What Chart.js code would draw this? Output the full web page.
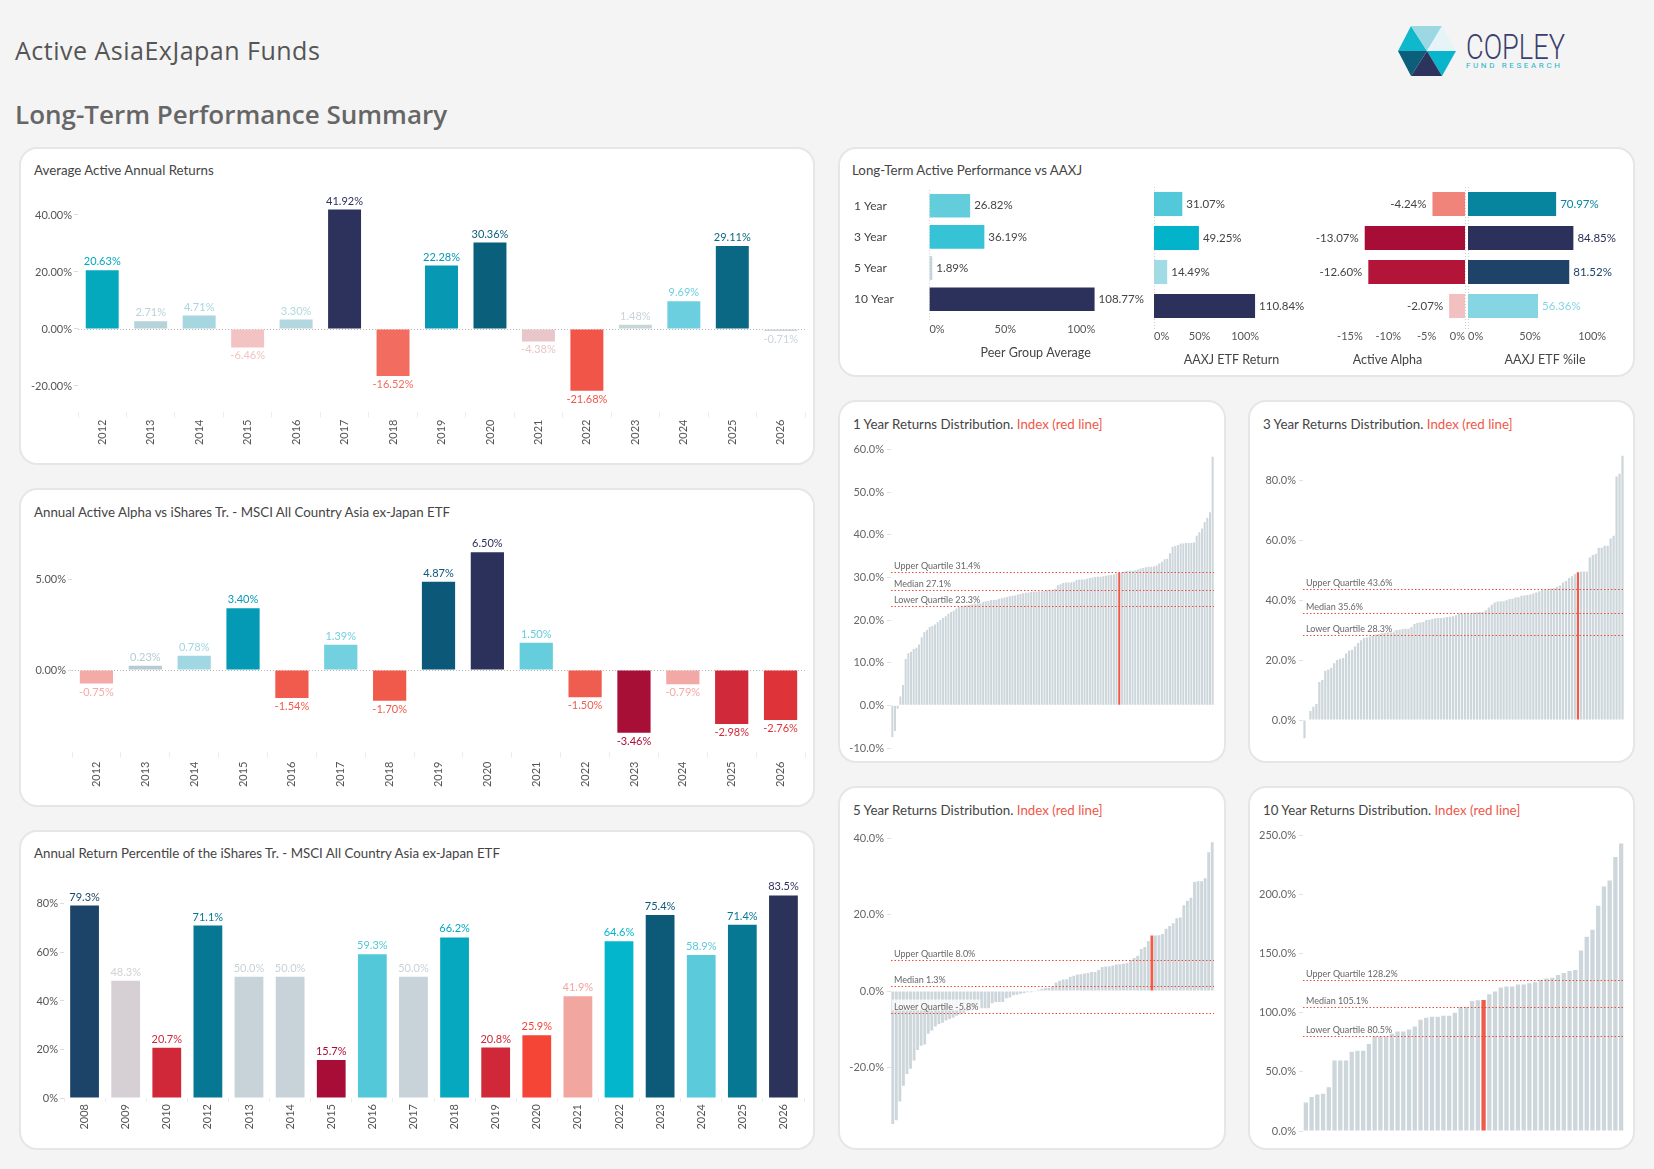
<!DOCTYPE html>
<html>
<head>
<meta charset="utf-8">
<title>Active AsiaExJapan Funds</title>
<script src="https://cdn.jsdelivr.net/npm/chart.js@4.4.1/dist/chart.umd.min.js"></script>
<style>
  body { margin: 0; background: #f4f4f4; font-family: Lato, sans-serif; }
  #page { position: relative; width: 1654px; height: 1169px; overflow: hidden; }
  .card { position: absolute; background: #fff; border: 2px solid #e6e6e6; border-radius: 18px; box-sizing: border-box; }
  .title { position: absolute; font-size: 13.3px; color: #444; white-space: nowrap; line-height: 16px; }
  .title span { color: #f0584a; }
  .h1 { position: absolute; left: 15px; top: 33px; font-family: 'Open Sans'; font-size: 25px; letter-spacing: 0.5px; color: #555; }
  .h2 { position: absolute; left: 15px; top: 96px; font-family: 'Open Sans'; font-size: 26px; font-weight: 600; color: #666; }
  canvas { position: absolute; }
</style>
</head>
<body>
<div id="page">
  <div class="h1">Active AsiaExJapan Funds</div>
  <div class="h2">Long-Term Performance Summary</div>

  <svg width="180" height="60" style="position:absolute;left:1396px;top:22px">
    <g transform="translate(2,4)">
      <polygon points="29,25 0,25 13,0" fill="#10b8cc"/>
      <polygon points="29,25 13,0 44,0" fill="#9bd8e4"/>
      <polygon points="29,25 44,0 58,25" fill="#e6f4f7"/>
      <polygon points="29,25 58,25 44,50" fill="#08b5cc"/>
      <polygon points="29,25 44,50 13,50" fill="#2c335d"/>
      <polygon points="29,25 13,50 0,25" fill="#0c5e7a"/>
    </g>
    <text x="70" y="37" font-family="Roboto" font-weight="300" font-size="35" fill="#3b3f6d" textLength="99" lengthAdjust="spacingAndGlyphs">COPLEY</text>
    <text x="70" y="45.5" font-family="Roboto" font-weight="400" font-size="8" fill="#1ab5c9" textLength="94" lengthAdjust="spacing">FUND RESEARCH</text>
  </svg>

  <div class="card" style="left:19px;top:147px;width:796px;height:318px"></div>
  <div class="card" style="left:19px;top:488px;width:796px;height:319px"></div>
  <div class="card" style="left:19px;top:830px;width:796px;height:320px"></div>
  <div class="card" style="left:838px;top:147px;width:797px;height:230px"></div>
  <div class="card" style="left:838px;top:400px;width:388px;height:363px"></div>
  <div class="card" style="left:1248px;top:400px;width:387px;height:363px"></div>
  <div class="card" style="left:838px;top:786px;width:388px;height:364px"></div>
  <div class="card" style="left:1248px;top:786px;width:387px;height:364px"></div>

  <div class="title" style="left:34px;top:162px">Average Active Annual Returns</div>
  <div class="title" style="left:34px;top:504px">Annual Active Alpha vs iShares Tr. - MSCI All Country Asia ex-Japan ETF</div>
  <div class="title" style="left:34px;top:845px">Annual Return Percentile of the iShares Tr. - MSCI All Country Asia ex-Japan ETF</div>
  <div class="title" style="left:852px;top:162px">Long-Term Active Performance vs AAXJ</div>
  <div class="title" style="left:853px;top:416px">1 Year Returns Distribution. <span>Index (red line]</span></div>
  <div class="title" style="left:1263px;top:416px">3 Year Returns Distribution. <span>Index (red line]</span></div>
  <div class="title" style="left:853px;top:802px">5 Year Returns Distribution. <span>Index (red line]</span></div>
  <div class="title" style="left:1263px;top:802px">10 Year Returns Distribution. <span>Index (red line]</span></div>
</div>

<script>
// ---------- data ----------
var years = ['2012', '2013', '2014', '2015', '2016', '2017', '2018', '2019', '2020', '2021', '2022', '2023', '2024', '2025', '2026'];
var avgActiveReturns = [20.63, 2.71, 4.71, -6.46, 3.30, 41.92, -16.52, 22.28, 30.36, -4.38, -21.68, 1.48, 9.69, 29.11, -0.71];
var activeAlpha = [-0.75, 0.23, 0.78, 3.40, -1.54, 1.39, -1.70, 4.87, 6.50, 1.50, -1.50, -3.46, -0.79, -2.98, -2.76];

var pctYears = ['2008', '2009', '2010', '2012', '2013', '2014', '2015', '2016', '2017', '2018', '2019', '2020', '2021', '2022', '2023', '2024', '2025', '2026'];
var etfPercentile = [79.3, 48.3, 20.7, 71.1, 50.0, 50.0, 15.7, 59.3, 50.0, 66.2, 20.8, 25.9, 41.9, 64.6, 75.4, 58.9, 71.4, 83.5];

var periods = ['1 Year', '3 Year', '5 Year', '10 Year'];
var peerAverage = [26.82, 36.19, 1.89, 108.77];
var etfReturn = [31.07, 49.25, 14.49, 110.84];
var periodAlpha = [-4.24, -13.07, -12.60, -2.07];
var etfRank = [70.97, 84.85, 81.52, 56.36];

var quartileNames = ['Upper Quartile', 'Median', 'Lower Quartile'];

var dist1y = [-7.4, -6.0, -0.8, 2.1, 4.8, 10.9, 12.2, 12.6, 13.2, 13.5, 14.3, 16.0, 17.2, 17.7, 18.4, 18.6, 19.0, 19.5, 20.0, 20.5,
  20.9, 21.5, 21.9, 22.2, 22.7, 23.1, 23.3, 23.4, 23.5, 23.6, 23.7, 23.9, 24.0, 24.1, 24.3, 24.4, 24.5, 24.7, 24.7, 24.8,
  25.0, 25.1, 25.3, 25.4, 25.6, 25.7, 25.8, 26.0, 26.1, 26.3, 26.4, 26.5, 26.6, 26.7, 26.7, 26.8, 26.8, 26.9, 27.0, 27.1,
  27.1, 27.3, 28.2, 28.4, 28.7, 28.8, 28.8, 28.9, 29.0, 29.4, 29.5, 29.5, 29.5, 29.7, 29.9, 30.0, 30.1, 30.2, 30.2, 30.3,
  30.4, 30.5, 30.6, 30.7, 31.0, 31.07, 31.3, 31.4, 31.5, 31.6, 31.6, 31.7, 31.9, 32.1, 32.2, 32.4, 32.5, 32.5, 32.6, 32.8,
  33.3, 33.7, 34.3, 34.4, 35.7, 37.2, 37.4, 37.6, 38.0, 38.0, 38.1, 38.1, 38.1, 38.2, 39.8, 40.6, 41.5, 43.0, 44.0, 45.3, 58.3];
var index1y = 85;
var quart1y = [31.4, 27.1, 23.3];

var dist3y = [-6.1, 0.2, 3.0, 4.4, 5.3, 12.7, 13.3, 16.4, 16.8, 17.4, 18.9, 20.0, 20.4, 20.7, 22.2, 23.2, 23.4, 24.5, 25.7, 26.6,
  27.3, 27.5, 27.8, 28.1, 28.5, 28.7, 28.9, 29.1, 29.4, 29.6, 29.8, 30.0, 30.1, 30.3, 30.4, 30.4, 31.0, 32.0, 32.4, 32.5,
  32.7, 33.3, 33.4, 33.7, 33.9, 34.0, 34.0, 34.1, 34.3, 34.4, 34.6, 34.9, 35.5, 35.6, 35.6, 35.7, 35.7, 35.8, 35.9, 36.0,
  36.0, 36.6, 37.5, 38.4, 39.2, 39.5, 39.6, 39.6, 39.9, 40.3, 40.4, 40.8, 40.9, 41.4, 41.5, 41.7, 41.8, 42.2, 42.5, 42.9,
  43.3, 43.5, 43.7, 43.8, 44.0, 44.4, 44.8, 45.8, 46.3, 47.3, 47.9, 48.7, 49.25, 49.5, 49.5, 49.5, 54.2, 55.0, 55.4, 57.4,
  57.4, 58.1, 58.1, 60.5, 61.4, 81.2, 82.1, 88.1];
var index3y = 92;
var quart3y = [43.6, 35.6, 28.3];

var dist5y = [-34.8, -33.8, -28.9, -24.8, -21.7, -20.3, -18.2, -15.4, -14.3, -14.0, -11.2, -10.3, -9.3, -8.7, -8.3, -7.7, -7.3, -7.0, -6.5, -6.1,
  -5.7, -5.3, -5.0, -4.7, -4.7, -4.5, -4.5, -4.5, -3.2, -2.9, -2.9, -2.9, -1.9, -1.7, -1.1, -1.0, -0.7, -0.5, -0.3, -0.3,
  -0.2, 0.3, 0.6, 0.8, 0.8, 1.3, 2.2, 2.7, 3.0, 3.1, 3.7, 4.0, 4.3, 4.4, 4.6, 4.7, 5.0, 5.0, 5.5, 6.3,
  6.4, 6.4, 6.7, 6.9, 7.0, 7.1, 7.3, 8.1, 8.6, 9.2, 11.0, 11.5, 13.1, 14.49, 14.5, 14.6, 14.9, 16.3, 17.0, 17.7,
  19.0, 19.2, 22.4, 23.6, 24.4, 28.5, 28.7, 28.7, 29.5, 36.3, 38.9];
var index5y = 73;
var quart5y = [8.0, 1.3, -5.8];

var dist10y = [24.2, 28.8, 30.8, 31.6, 37.1, 59.6, 59.6, 59.6, 67.0, 67.9, 67.9, 73.6, 80.2, 80.2, 80.2, 82.4, 84.3, 84.3, 86.0, 88.5,
  94.2, 95.9, 96.7, 96.7, 97.5, 97.5, 100.0, 105.0, 105.0, 110.0, 110.7, 110.84, 115.7, 118.0, 121.4, 122.3, 122.3, 123.9, 123.9, 125.0,
  125.8, 128.0, 129.0, 129.7, 132.0, 133.8, 135.4, 136.3, 152.7, 164.3, 170.3, 190.7, 207.0, 212.0, 231.9, 243.4];
var index10y = 31;
var quart10y = [128.2, 105.1, 80.5];

// ---------- colours ----------
var avgColors = ['#05a9bd', '#b6d3da', '#a6d6e0', '#f3c3c3', '#b3d7de', '#2c325b', '#f26c5f', '#0798b3', '#0a5f7b', '#e8c6c9', '#f15548', '#c7d5d9', '#6ccfdf', '#0a6884', '#cdd4dc'];
var alphaColors = ['#f3aba7', '#b7cbd3', '#a1d7e3', '#049ab5', '#f05b4e', '#73d0de', '#f05a4b', '#0b5879', '#2b315b', '#66cddc', '#ef5d51', '#a80f37', '#f2a9a5', '#d02a3a', '#de3439'];
var pctColors = ['#1c4468', '#d6d0d4', '#d02838', '#077893', '#c8d2d9', '#c8d2d9', '#a80d38', '#52c8d8', '#c8d2d9', '#05a8bf', '#d02838', '#f44536', '#f1a6a0', '#04b6cc', '#0c5a78', '#5bcadb', '#077893', '#2c335b'];
var peerColors = ['#63cddc', '#35c3d5', '#c5d3da', '#2c315b'];
var etfColors = ['#52c8d9', '#02b3c9', '#a2dbe5', '#2c315b'];
var periodAlphaColors = ['#f0847a', '#a80d38', '#b31538', '#f3c0c2'];
var rankColors = ['#07849e', '#2c315b', '#1f4268', '#86d5e2'];
var distGrey = '#cdd6db';
var distRed = '#f05a4a';

Chart.defaults.font.family = "Lato, 'DejaVu Sans', sans-serif";
Chart.defaults.color = '#666';
Chart.defaults.animation = false;
Chart.defaults.plugins.legend.display = false;
Chart.defaults.plugins.tooltip.enabled = false;

// value labels on the end of each bar
var valueLabels = {
  id: 'valueLabels',
  afterDatasetsDraw: function(chart, args, opts) {
    if (!opts.on) return;
    var ctx = chart.ctx;
    var ds = chart.data.datasets[0];
    var meta = chart.getDatasetMeta(0);
    ctx.save();
    ctx.font = (opts.size || 11) + "px Lato, 'DejaVu Sans', sans-serif";
    meta.data.forEach(function(bar, i) {
      var v = ds.data[i];
      var txt = v.toFixed(opts.decimals) + '%';
      ctx.fillStyle = opts.color || ds.backgroundColor[i];
      if (chart.options.indexAxis === 'y') {
        ctx.textBaseline = 'middle';
        if (v >= 0) { ctx.textAlign = 'left'; ctx.fillText(txt, bar.x + 4, bar.y); }
        else { ctx.textAlign = 'right'; ctx.fillText(txt, bar.x - 6, bar.y); }
      } else {
        ctx.textAlign = 'center';
        if (v >= 0) { ctx.textBaseline = 'bottom'; ctx.fillText(txt, bar.x, bar.y - 3); }
        else { ctx.textBaseline = 'top'; ctx.fillText(txt, bar.x, bar.y + 3); }
      }
    });
    ctx.restore();
  }
};

// dotted line at zero
var zeroLine = {
  id: 'zeroLine',
  beforeDatasetsDraw: function(chart, args, opts) {
    if (!opts.axis) return;
    var ctx = chart.ctx, a = chart.chartArea;
    ctx.save();
    ctx.strokeStyle = opts.color || '#bbb';
    ctx.lineWidth = 1;
    ctx.setLineDash([1, 2]);
    ctx.beginPath();
    if (opts.axis === 'y') {
      var y = Math.round(chart.scales.y.getPixelForValue(0)) + 0.5;
      ctx.moveTo(a.left, y); ctx.lineTo(a.right, y);
    } else {
      var x = Math.round(chart.scales.x.getPixelForValue(0)) + 0.5;
      ctx.moveTo(x, a.top); ctx.lineTo(x, a.bottom + 6);
    }
    ctx.stroke();
    ctx.restore();
  }
};

// quartile reference lines
var quartiles = {
  id: 'quartiles',
  afterDatasetsDraw: function(chart, args, opts) {
    if (!opts.values) return;
    var ctx = chart.ctx, a = chart.chartArea, ys = chart.scales.y;
    ctx.save();
    ctx.font = "9px Lato, 'DejaVu Sans', sans-serif";
    opts.values.forEach(function(v, i) {
      var y = Math.round(ys.getPixelForValue(v)) + 0.5;
      ctx.strokeStyle = '#ef4b3c';
      ctx.lineWidth = 1;
      ctx.setLineDash([1.5, 2]);
      ctx.beginPath(); ctx.moveTo(a.left, y); ctx.lineTo(a.right, y); ctx.stroke();
      var txt = quartileNames[i] + ' ' + v.toFixed(1) + '%';
      var w = ctx.measureText(txt).width;
      ctx.fillStyle = 'rgba(255,255,255,0.75)';
      ctx.fillRect(a.left + 1, y - 14, w + 4, 11);
      ctx.fillStyle = '#666';
      ctx.textAlign = 'left';
      ctx.textBaseline = 'bottom';
      ctx.fillText(txt, a.left + 3, y - 2);
    });
    ctx.restore();
  }
};

Chart.register(valueLabels, zeroLine, quartiles);

var page = document.getElementById('page');

function keepSteps(step) {
  return function(s) {
    s.ticks = s.ticks.filter(function(t) { return Math.abs(t.value / step - Math.round(t.value / step)) < 1e-6; });
  };
}

// box = canvas rectangle on the page, plot = wanted chart area on the page
function makeChart(box, plot, cfg) {
  var c = document.createElement('canvas');
  c.width = box.w; c.height = box.h;
  c.style.left = box.x + 'px'; c.style.top = box.y + 'px';
  page.appendChild(c);
  var o = cfg.options;
  o.responsive = false;
  o.devicePixelRatio = 1;
  o.layout = { padding: { top: plot.t - box.y, right: box.x + box.w - plot.r, bottom: 0, left: 0 } };
  o.scales.y.afterFit = function(s) { s.width = plot.l - box.x; };
  o.scales.x.afterFit = function(s) { s.height = box.y + box.h - plot.b; };
  return new Chart(c, cfg);
}

function columnChart(box, plot, labels, values, colors, yOpt, xOpt, decimals) {
  return makeChart(box, plot, {
    type: 'bar',
    data: { labels: labels, datasets: [{ data: values, backgroundColor: colors, barPercentage: xOpt.bar, categoryPercentage: 1 }] },
    options: {
      scales: {
        x: {
          grid: { display: true, drawOnChartArea: false, drawTicks: true, tickLength: xOpt.tick, color: '#ececec', offset: true },
          border: { display: false },
          ticks: { minRotation: 90, maxRotation: 90, autoSkip: false, padding: xOpt.pad, color: '#555', font: { size: 11 } }
        },
        y: {
          min: yOpt.min, max: yOpt.max,
          grid: { drawOnChartArea: false, tickLength: 4, color: '#dcdcdc' },
          border: { display: false },
          ticks: { stepSize: yOpt.step, padding: 2, color: '#555', font: { size: 11 }, callback: yOpt.fmt },
          afterBuildTicks: keepSteps(yOpt.step)
        }
      },
      plugins: { valueLabels: { on: true, decimals: decimals }, zeroLine: yOpt.zero ? { axis: 'y', color: '#b8b8b8' } : {} }
    }
  });
}

// ---------- left column ----------
columnChart({ x: 19, y: 180, w: 796, h: 280 }, { l: 78, t: 192.2, r: 805, b: 411.6 },
  years, avgActiveReturns, avgColors,
  { min: -29, max: 48, step: 20, zero: true, fmt: function(v) { return v.toFixed(2) + '%'; } },
  { tick: 6, pad: 2, bar: 0.68 }, 2);

columnChart({ x: 19, y: 525, w: 796, h: 278 }, { l: 72, t: 534, r: 805, b: 751.6 },
  years, activeAlpha, alphaColors,
  { min: -4.5, max: 7.5, step: 5, zero: true, fmt: function(v) { return v.toFixed(2) + '%'; } },
  { tick: 6, pad: 4, bar: 0.68 }, 2);

columnChart({ x: 19, y: 870, w: 796, h: 272 }, { l: 64, t: 884.5, r: 804, b: 1098 },
  pctYears, etfPercentile, pctColors,
  { min: 0, max: 88, step: 20, zero: false, fmt: function(v) { return v + '%'; } },
  { tick: 4, pad: 2, bar: 0.7 }, 1);

// ---------- long-term panels ----------
function panel(box, plot, values, colors, xOpt, labelColor, showRows) {
  return makeChart(box, plot, {
    type: 'bar',
    data: { labels: periods, datasets: [{ data: values, backgroundColor: colors, barPercentage: xOpt.bar, categoryPercentage: 1 }] },
    options: {
      indexAxis: 'y',
      scales: {
        x: {
          min: xOpt.min, max: xOpt.max,
          grid: { display: false, drawTicks: false }, border: { display: false },
          ticks: {
            stepSize: xOpt.step, align: 'inner', autoSkip: false, maxRotation: 0, padding: xOpt.pad, color: '#555', font: { size: 11 },
            callback: function(v) { return (v % xOpt.step === 0 && v > xOpt.min + 2) || v === 0 ? v + '%' : ''; }
          },
          title: { display: true, text: xOpt.title, color: '#444', font: { size: 12.5 }, padding: 0 }
        },
        y: {
          grid: { display: false, drawTicks: false }, border: { display: false },
          ticks: { display: showRows, crossAlign: 'far', color: '#444', font: { size: 12 } }
        }
      },
      plugins: { valueLabels: { on: true, decimals: 2, size: 11.5, color: labelColor }, zeroLine: { axis: 'x', color: '#cfcfcf' } }
    }
  });
}

panel({ x: 854, y: 180, w: 296, h: 180 }, { l: 929.4, t: 188.2, r: 1143, b: 314.8 },
  peerAverage, peerColors, { min: 0, max: 140, step: 50, pad: 8, bar: 0.76, title: 'Peer Group Average' }, '#444', true);

panel({ x: 1146, y: 180, w: 170, h: 187 }, { l: 1154, t: 187, r: 1309, b: 323 },
  etfReturn, etfColors, { min: 0, max: 170, step: 50, pad: 7, bar: 0.71, title: 'AAXJ ETF Return' }, '#444', false);

panel({ x: 1300, y: 180, w: 172, h: 187 }, { l: 1310, t: 187, r: 1467.6, b: 323 },
  periodAlpha, periodAlphaColors, { min: -20.2, max: 0, step: 5, pad: 7, bar: 0.71, title: 'Active Alpha' }, '#444', false);

panel({ x: 1461, y: 180, w: 169, h: 187 }, { l: 1467.6, t: 187, r: 1622, b: 323 },
  etfRank, rankColors, { min: 0, max: 124, step: 50, pad: 7, bar: 0.71, title: 'AAXJ ETF %ile' }, null, false);

// ---------- distributions ----------
function distChart(box, plot, values, indexPos, quart, yOpt) {
  return makeChart(box, plot, {
    type: 'bar',
    data: {
      labels: values.map(function(v, i) { return String(i + 1); }),
      datasets: [{
        data: values,
        backgroundColor: values.map(function(v, i) { return i === indexPos ? distRed : distGrey; }),
        barPercentage: yOpt.bar, categoryPercentage: 1
      }]
    },
    options: {
      scales: {
        x: { ticks: { display: false }, grid: { display: false, drawTicks: false }, border: { display: false } },
        y: {
          min: yOpt.min, max: yOpt.max,
          grid: { drawOnChartArea: false, tickLength: 4, color: '#e2e2e2' },
          border: { display: false },
          ticks: { stepSize: yOpt.step, padding: 3, color: '#666', font: { size: 11 }, callback: function(v) { return v.toFixed(1) + '%'; } },
          afterBuildTicks: keepSteps(yOpt.step)
        }
      },
      plugins: { quartiles: { values: quart } }
    }
  });
}

distChart({ x: 840, y: 440, w: 380, h: 318 }, { l: 891, t: 448, r: 1214, b: 748 },
  dist1y, index1y, quart1y, { min: -10, max: 60, step: 10, bar: 0.75 });
distChart({ x: 1250, y: 440, w: 380, h: 310 }, { l: 1303, t: 453, r: 1624, b: 739.5 },
  dist3y, index3y, quart3y, { min: -6.5, max: 89, step: 20, bar: 0.75 });
distChart({ x: 840, y: 828, w: 380, h: 310 }, { l: 891, t: 838, r: 1214, b: 1126.8 },
  dist5y, index5y, quart5y, { min: -35.5, max: 40, step: 20, bar: 0.8 });
distChart({ x: 1250, y: 826, w: 380, h: 315 }, { l: 1303, t: 834, r: 1624, b: 1131 },
  dist10y, index10y, quart10y, { min: 0, max: 250, step: 50, bar: 0.75 });
</script>
</body>
</html>
